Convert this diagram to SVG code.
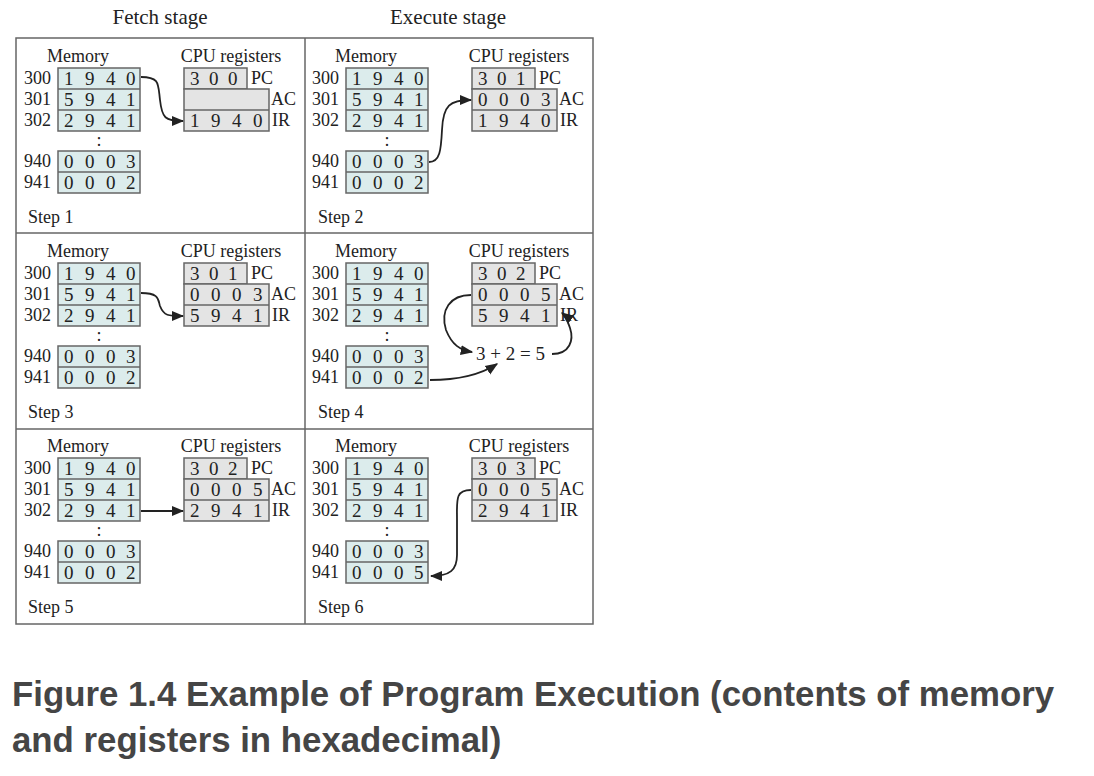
<svg xmlns="http://www.w3.org/2000/svg" width="1094" height="776" viewBox="0 0 1094 776">
<style>
text{font-family:"Liberation Serif",serif;font-size:18px;fill:#222}
.n{font-size:19px}
.m{fill:#dcecec;stroke:#666;stroke-width:1.5}
.r{fill:#e4e4e4;stroke:#666;stroke-width:1.5}
.c{fill:none;stroke:#222;stroke-width:1.8}
.cap{font-family:"Liberation Sans",sans-serif;font-weight:bold;font-size:34.8px;fill:#454545}
</style>
<defs>
<marker id="a" viewBox="0 0 10 10" refX="9" refY="5" markerWidth="7" markerHeight="7" orient="auto"><path d="M0,1 L10,5 L0,9 z" fill="#222"/></marker>
<g id="mem">
<text x="78" y="62" text-anchor="middle">Memory</text>
<text x="231" y="62" text-anchor="middle">CPU registers</text>
<rect class="m" x="58" y="68" width="82" height="63"/>
<line class="m" x1="58" y1="89" x2="140" y2="89"/><line class="m" x1="58" y1="110" x2="140" y2="110"/>
<rect class="m" x="58" y="151" width="82" height="42"/>
<line class="m" x1="58" y1="172" x2="140" y2="172"/>
<text x="24" y="84">300</text><text x="24" y="105">301</text><text x="24" y="126">302</text>
<text x="24" y="167">940</text><text x="24" y="188">941</text>
<text x="99" y="146" text-anchor="middle">:</text>
<text class="n" x="64 85 106 126" y="85">1940</text>
<text class="n" x="64 85 106 126" y="106">5941</text>
<text class="n" x="64 85 106 126" y="127">2941</text>
<text class="n" x="64 85 106 126" y="168">0003</text>
<rect class="r" x="184" y="68" width="63" height="21"/>
<rect class="r" x="184" y="89" width="85" height="42"/>
<line class="r" x1="184" y1="110" x2="269" y2="110"/>
<text x="251" y="84">PC</text><text x="271" y="105">AC</text><text x="272" y="126">IR</text>
</g>
</defs>
<text x="160" y="24" text-anchor="middle" style="font-size:21px">Fetch stage</text>
<text x="448" y="24" text-anchor="middle" style="font-size:21px">Execute stage</text>
<rect x="16" y="38" width="577" height="586" fill="none" stroke="#666" stroke-width="1.5"/>
<line x1="305" y1="38" x2="305" y2="624" stroke="#666" stroke-width="1.5"/>
<line x1="16" y1="233" x2="593" y2="233" stroke="#666" stroke-width="1.5"/>
<line x1="16" y1="429" x2="593" y2="429" stroke="#666" stroke-width="1.5"/>

<g id="step1">
<use href="#mem"/>
<text class="n" x="64 85 106 126" y="189">0002</text>
<text class="n" x="190 209 228" y="85">300</text>
<text class="n" x="190 211 232 253" y="127">1940</text>
<text x="28" y="223">Step 1</text>
</g>
<g id="step2" transform="translate(288,0)">
<use href="#mem"/>
<text class="n" x="64 85 106 126" y="189">0002</text>
<text class="n" x="190 209 228" y="85">301</text>
<text class="n" x="190 211 232 253" y="106">0003</text>
<text class="n" x="190 211 232 253" y="127">1940</text>
<text x="30" y="223">Step 2</text>
</g>
<g id="step3" transform="translate(0,195)">
<use href="#mem"/>
<text class="n" x="64 85 106 126" y="189">0002</text>
<text class="n" x="190 209 228" y="85">301</text>
<text class="n" x="190 211 232 253" y="106">0003</text>
<text class="n" x="190 211 232 253" y="127">5941</text>
<text x="28" y="223">Step 3</text>
</g>
<g id="step4" transform="translate(288,195)">
<use href="#mem"/>
<text class="n" x="64 85 106 126" y="189">0002</text>
<text class="n" x="190 209 228" y="85">302</text>
<text class="n" x="190 211 232 253" y="106">0005</text>
<text class="n" x="190 211 232 253" y="127">5941</text>
<text x="30" y="223">Step 4</text>
<text x="188" y="165" class="n">3 + 2 = 5</text>
</g>
<g id="step5" transform="translate(0,390)">
<use href="#mem"/>
<text class="n" x="64 85 106 126" y="189">0002</text>
<text class="n" x="190 209 228" y="85">302</text>
<text class="n" x="190 211 232 253" y="106">0005</text>
<text class="n" x="190 211 232 253" y="127">2941</text>
<text x="28" y="223">Step 5</text>
</g>
<g id="step6" transform="translate(288,390)">
<use href="#mem"/>
<text class="n" x="64 85 106 126" y="189">0005</text>
<text class="n" x="190 209 228" y="85">303</text>
<text class="n" x="190 211 232 253" y="106">0005</text>
<text class="n" x="190 211 232 253" y="127">2941</text>
<text x="30" y="223">Step 6</text>
</g>

<g id="connectors">
<path class="c" d="M141,77 C160,77 158,84 160,100 C162,118 165,121 183,121" marker-end="url(#a)"/>
<path class="c" d="M429,162 C440,162 441,150 442,130 C443,105 450,100 471,100" marker-end="url(#a)"/>
<path class="c" d="M141,293 C160,293 158,300 160,306 C164,316 168,316 183,316" marker-end="url(#a)"/>
<path class="c" d="M471,295 C450,295 440,310 446,330 C452,345 460,350 472,352" marker-end="url(#a)"/>
<path class="c" d="M430,380 C460,380 480,375 497,364" marker-end="url(#a)"/>
<path class="c" d="M552,354 C570,354 574,340 570,328 C567,320 566,316 562,313" marker-end="url(#a)"/>
<path class="c" d="M141,511 L183,511" marker-end="url(#a)"/>
<path class="c" d="M471,490 C455,490 457,500 457,520 L457,555 C457,570 450,576 431,576" marker-end="url(#a)"/>
</g>
<text class="cap" x="12" y="706">Figure 1.4 Example of Program Execution (contents of memory</text>
<text class="cap" x="12" y="752">and registers in hexadecimal)</text>
</svg>
